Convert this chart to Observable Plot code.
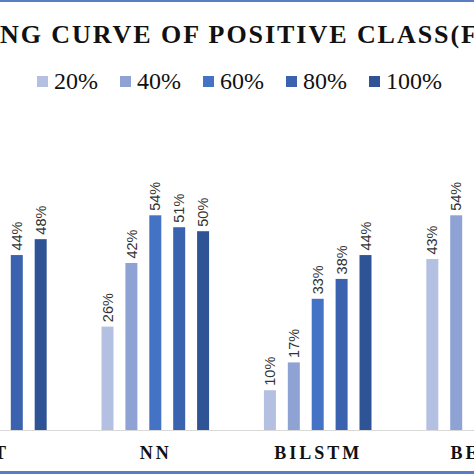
<!DOCTYPE html>
<html>
<head>
<meta charset="utf-8">
<script src="https://cdn.jsdelivr.net/npm/d3@7"></script>
<script src="https://cdn.jsdelivr.net/npm/@observablehq/plot@0.6"></script>
<style>
  html, body { margin: 0; padding: 0; background: #fff; overflow: hidden; }
  #chart { position: relative; width: 474px; height: 474px; overflow: hidden; background: #fff; }
  .edge { position: absolute; left: 0; width: 474px; background: #5a7ec6; }
  #title { position: absolute; top: 22px; left: 0; white-space: nowrap;
           font: bold 26px "Liberation Serif", serif; line-height: 26px; letter-spacing: 1.95px; color: #111; }
  #legend { position: absolute; top: 69px; left: 37px; display: flex; gap: 22px;
            font: 24px "Liberation Serif", serif; line-height: 24px; color: #111; }
  .item { display: flex; align-items: center; gap: 6px; }
  .swatch { width: 11px; height: 11px; }
  #plot { position: absolute; top: 100px; left: 0; }
  #plot [aria-label^="fx-axis"] text { font: bold 18px "Liberation Serif", serif; letter-spacing: 3px; fill: #111; }
</style>
</head>
<body>
<div id="chart">
  <div class="edge" style="top:0;height:2px"></div>
  <div id="title"><span id="lead">LEARNI</span>NG CURVE OF POSITIVE CLASS(F1-SCORE)</div>
  <div id="legend"></div>
  <div id="plot"></div>
  <div class="edge" style="top:471px;height:3px"></div>
</div>
<script>
// Models (one facet each) and training-set sizes (one bar each)
const groups = ["DT", "NN", "BILSTM", "BERT"];
const sizes = ["20%", "40%", "60%", "80%", "100%"];
const colors = ["#b4c0e2", "#8fa2d4", "#4472c4", "#3a62ae", "#2f5496"];

// F1 of the positive class, in percent, per training-set size
const dtScores = [null, null, null, 44, 48];
const nnScores = [26, 42, 54, 51, 50];
const bilstmScores = [10, 17, 33, 38, 44];
const bertScores = [43, 54, null, null, null];

const scoreLists = [dtScores, nnScores, bilstmScores, bertScores];
const rows = [];
groups.forEach((group, gi) => {
  scoreLists[gi].forEach((value, si) => {
    if (value != null) rows.push({group, size: sizes[si], value});
  });
});

// Shift the title so its visible part starts at the left edge
const lead = document.getElementById("lead");
document.getElementById("title").style.left = -lead.getBoundingClientRect().width + "px";

// Legend
const legend = document.getElementById("legend");
sizes.forEach((s, i) => {
  const item = document.createElement("div");
  item.className = "item";
  const sw = document.createElement("span");
  sw.className = "swatch";
  sw.style.background = colors[i];
  const label = document.createElement("span");
  label.textContent = s;
  item.append(sw, label);
  legend.append(item);
});

const chart = Plot.plot({
  width: 474,
  height: 372,
  marginTop: 0,
  marginRight: 0,
  marginBottom: 42,
  marginLeft: 0,
  style: {background: "transparent", overflow: "visible"},
  facet: {data: rows, x: "group"},
  fx: {domain: groups, range: [-72.8, 545.8], paddingInner: 0.191, paddingOuter: 0, round: false,
       axis: "bottom", label: null, tickSize: 0, tickPadding: 16},
  x: {domain: sizes, padding: 0.498, round: false, axis: null},
  y: {domain: [0, 83], axis: null},
  color: {domain: sizes, range: colors},
  marks: [
    Plot.ruleY([0], {stroke: "#d9d9d9", strokeWidth: 1, insetLeft: -16, insetRight: -16}),
    Plot.barY(rows, {x: "size", y: "value", fill: "size"}),
    Plot.text(rows, {
      x: "size", y: "value", text: d => `${d.value}%`,
      rotate: -90, textAnchor: "start", dy: -5,
      fontSize: 14.5, fontFamily: "Liberation Sans, sans-serif", fill: "#333"
    })
  ]
});
document.getElementById("plot").append(chart);
</script>
</body>
</html>
